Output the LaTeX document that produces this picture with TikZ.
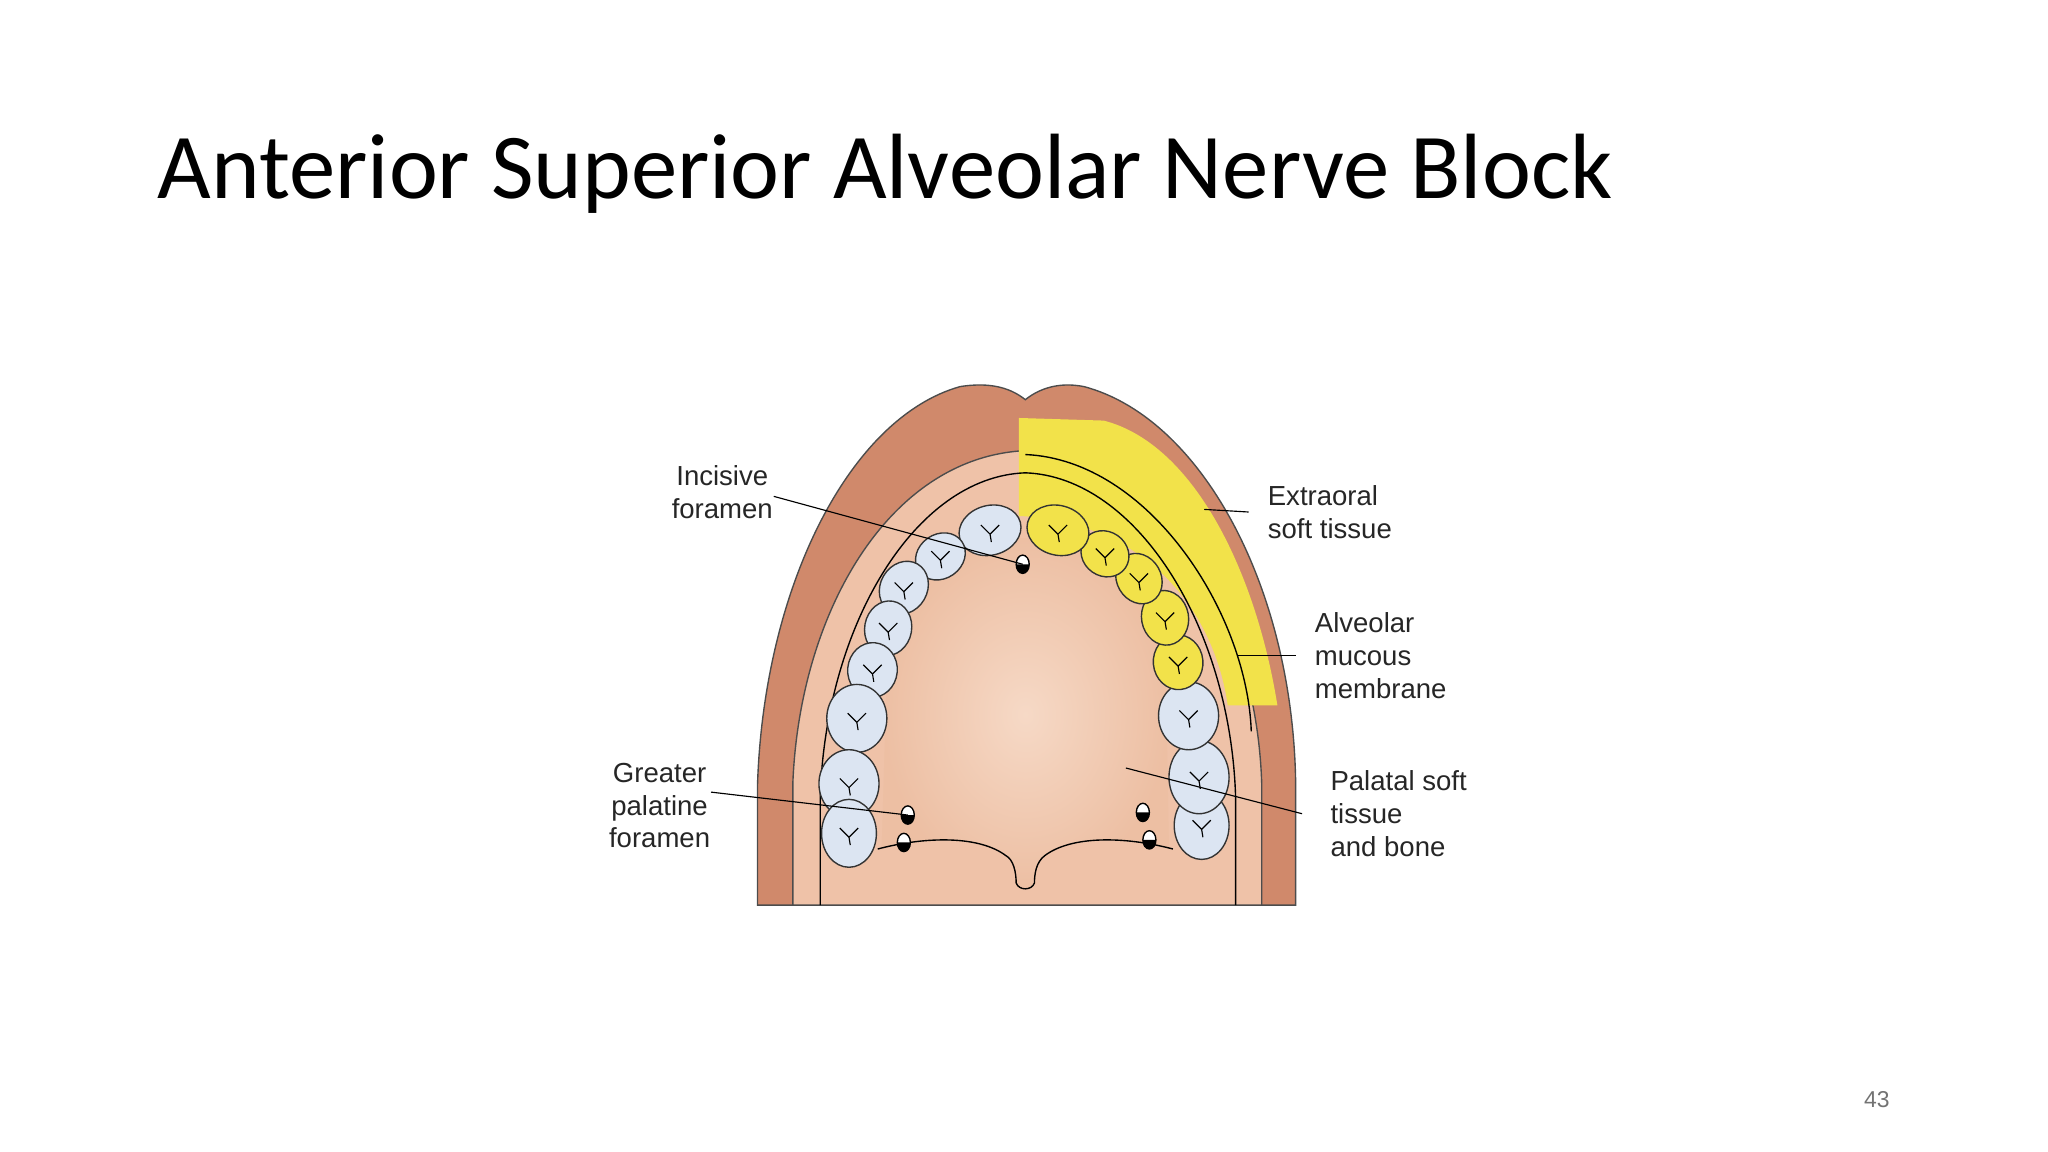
\documentclass[tikz,border=0pt]{standalone}
\usepackage{fontspec}
\setmainfont{Liberation Sans}
\newfontfamily\titlefont{Carlito}
\begin{document}
\begin{tikzpicture}[x=0.1mm,y=-0.1mm,
  lbl/.style={font=\fontsize{6}{7.1}\selectfont,text=black!85,inner sep=0pt},
  lead/.style={draw=black,line width=0.25pt},
  tooth/.style={draw=black!80,line width=0.3pt}]
\useasboundingbox (0,0) rectangle (1568,882);
\definecolor{brn}{HTML}{D0896B}
\definecolor{peach}{HTML}{EFC2A8}
\definecolor{pal}{HTML}{F6D9C6}
\definecolor{tb}{HTML}{DCE5F2}
\definecolor{ty}{HTML}{F2E24A}
\node[anchor=base west,inner sep=0pt,font=\titlefont\fontsize{20.2}{24}\selectfont] (title) at (120,152) {Anterior Superior Alveolar Nerve Block};
% outer brown
\path[fill=brn,draw=black!70,line width=0.3pt] (580,693) -- (580,600) .. controls (585,450) and (650,320) .. (735,296) .. controls (760,292) and (775,298) .. (785,306) .. controls (795,298) and (810,292) .. (830,296) .. controls (920,320) and (990,450) .. (992,600) -- (992,693) -- cycle;
% inner peach
\path[fill=peach,draw=black!70,line width=0.3pt] (607,693) -- (607,600) .. controls (612,470) and (680,350) .. (785,345) .. controls (890,350) and (962,470) .. (966,600) -- (966,693) -- cycle;
% yellow region
\path[fill=ty] (780,320) -- (845,322) .. controls (915,340) and (962,440) .. (978,540) -- (940,540) .. controls (930,470) and (880,400) .. (780,395) -- cycle;
% arch lines
\draw[line width=0.3pt] (628,693) -- (628,610) .. controls (632,480) and (700,365) .. (785,362) .. controls (870,365) and (942,480) .. (946,610) -- (946,693);
\draw[line width=0.3pt] (785,348) .. controls (880,352) and (955,470) .. (958,560);
% palate
\shade[inner color=pal,outer color=peach!95!brown] (680,480) .. controls (690,420) and (740,412) .. (785,412) .. controls (830,412) and (880,420) .. (892,480) -- (895,650) .. controls (860,640) and (820,640) .. (800,655) .. controls (793,660) and (792,670) .. (792,676) .. controls (790,682) and (780,682) .. (778,676) .. controls (778,668) and (776,658) .. (770,655) .. controls (750,640) and (710,640) .. (675,650) -- cycle;
\draw[line width=0.3pt] (672,650) .. controls (710,640) and (750,640) .. (770,655) .. controls (776,658) and (778,668) .. (778,676) .. controls (780,682) and (790,682) .. (792,676) .. controls (792,670) and (793,660) .. (800,655) .. controls (820,640) and (860,640) .. (898,650);
% teeth
\foreach \x/\y/\a/\b/\r/\c in {758/406/24/19/15/tb,720/426/20/17/35/tb,692/450/21/18/60/tb,680/481/21/18/80/tb,668/513/21/19/85/tb,656/550/26/23/90/tb,650/600/26/23/90/tb,650/638/26/21/90/tb,
 920/632/26/21/90/tb,918/595/28/23/90/tb,910/548/26/23/90/tb,902/507/21/19/95/ty,892/473/21/18/100/ty,872/443/20/17/120/ty,846/424/19/17/145/ty,810/406/24/19/165/ty}
 {\draw[tooth,fill=\c] (\x,\y) ellipse[x radius=\a,y radius=\b,rotate=\r];
  \draw[line width=0.25pt] (\x-7,\y-4) -- (\x,\y+3) -- (\x+7,\y-4) (\x,\y+3) -- (\x+1,\y+9);}
% foramina
\foreach \n/\x/\y in {fi/783/432,g1/695/624,g2/692/645,g3/875/622,g4/880/643}
 {\fill[white,draw=black,line width=0.3pt] (\x,\y) ellipse[x radius=5,y radius=7];
  \fill[black] (\x-5,\y) arc[start angle=180,end angle=360,x radius=5,y radius=-7] -- cycle;
  \coordinate (\n) at (\x,\y);}
\coordinate (ext) at (922,390); \coordinate (alv) at (948,502); \coordinate (pal) at (862,588);
% labels
\node[lbl,align=center] (inc) at (553,377) {Incisive\\foramen};
\node[lbl,align=left,anchor=west] (extl) at (970,392) {Extraoral\\soft tissue};
\node[lbl,align=left,anchor=west] (alvl) at (1006,502) {Alveolar\\mucous\\membrane};
\node[lbl,align=left,anchor=west] (pall) at (1018,623) {Palatal soft\\tissue\\and bone};
\node[lbl,align=center] (gpf) at (505,617) {Greater\\palatine\\foramen};
\draw[lead] (inc.east) ++(0,3) -- (fi);
\draw[lead] (ext) -- ([xshift=-4]extl.west);
\draw[lead] (alv) -- ([xshift=-4]alvl.west);
\draw[lead] (pal) -- ([xshift=-6]pall.west);
\draw[lead] ([yshift=3]gpf.east) -- (g1);
\node[font=\fontsize{5}{6}\selectfont,text=black!55] (pg) at (1437,842) {43};
\end{tikzpicture}
\end{document}
